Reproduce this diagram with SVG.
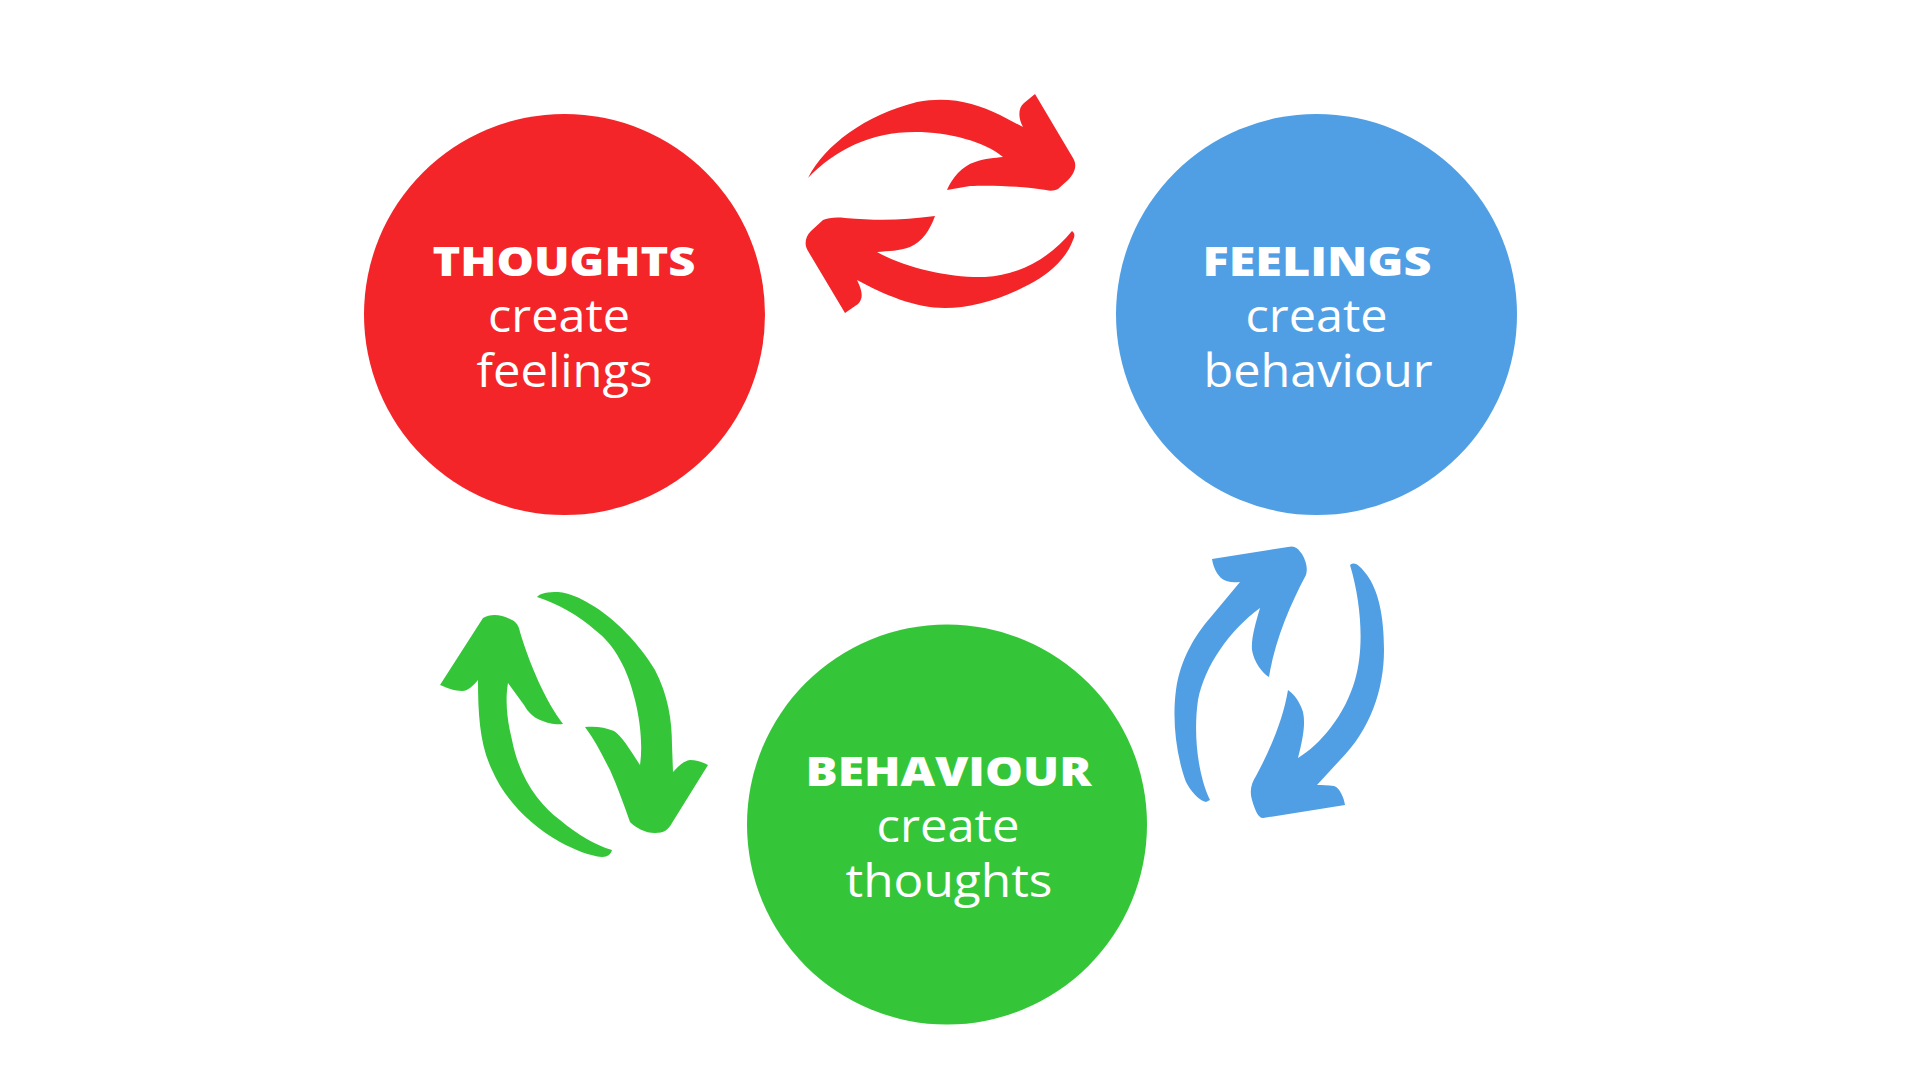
<svg xmlns="http://www.w3.org/2000/svg" width="1920" height="1080" viewBox="0 0 1920 1080">
<style>
.bg{fill:#ffffff}
.red{fill:#F32529}
.blue{fill:#509FE5}
.green{fill:#34C638}
.title{font-family:"Open Sans","Liberation Sans",sans-serif;font-weight:800;font-size:41px;fill:#ffffff;text-anchor:middle}
.sub{font-family:"Open Sans","Liberation Sans",sans-serif;font-weight:400;font-size:46px;fill:#ffffff;text-anchor:middle}
</style>
<rect class="bg" x="0" y="0" width="1920" height="1080"/>
<g id="thoughts">
<circle class="red" cx="564.5" cy="314.5" r="200.5"/>
<text class="title" x="564" y="276" textLength="263" lengthAdjust="spacingAndGlyphs">THOUGHTS</text>
<text class="sub" x="559" y="332" textLength="142" lengthAdjust="spacingAndGlyphs">create</text>
<text class="sub" x="564.5" y="387" textLength="176" lengthAdjust="spacingAndGlyphs">feelings</text>
</g>
<g id="feelings">
<circle class="blue" cx="1316.5" cy="314.5" r="200.5"/>
<text class="title" x="1317" y="276" textLength="229" lengthAdjust="spacingAndGlyphs">FEELINGS</text>
<text class="sub" x="1316.5" y="332" textLength="142" lengthAdjust="spacingAndGlyphs">create</text>
<text class="sub" x="1318" y="387" textLength="229" lengthAdjust="spacingAndGlyphs">behaviour</text>
</g>
<g id="behaviour">
<circle class="green" cx="947" cy="824.5" r="200"/>
<text class="title" x="948.5" y="786" textLength="286" lengthAdjust="spacingAndGlyphs">BEHAVIOUR</text>
<text class="sub" x="948" y="842" textLength="143" lengthAdjust="spacingAndGlyphs">create</text>
<text class="sub" x="949" y="897" textLength="207" lengthAdjust="spacingAndGlyphs">thoughts</text>
</g>
<g id="connectors">
<path class="red" d="M 808,178 C 825,145 865,115 917,102 C 950,96 975,103 1000,115 L 1023,127 C 1018,118 1018,108 1024,103 L 1035,94 L 1073,158 C 1078,166 1074,174 1068,180 L 1058,189 C 1054,191 1050,191 1046,190 C 1020,186 990,185 970,186 L 947,190 C 952,178 962,166 975,162 C 985,158 995,158 1003,157 C 985,142 950,132 915,132 C 870,132 835,150 808,178 Z"/>
<path class="red" d="M 823,220 C 828,218 835,217 845,218 C 880,221 905,220 935,216 C 930,230 922,242 910,247 C 900,251 888,251 877,252 C 905,268 950,278 985,277 C 1020,275 1050,258 1072,231 C 1075,233 1075,236 1073,240 C 1065,262 1045,276 1030,284 C 1000,300 970,308 945,308 C 915,308 885,295 857,280 C 862,290 864,298 858,304 L 845,313 L 808,251 C 804,245 805,237 811,231 Z"/>
<path class="blue" d="M 1212,559 L 1288,547 C 1294,545 1298,548 1302,554 C 1306,561 1308,568 1306,575 C 1290,605 1275,640 1269,677 C 1262,673 1254,662 1252,650 C 1251,638 1256,622 1260,608 C 1230,630 1205,665 1198,700 C 1193,735 1198,775 1210,800 L 1206,802 C 1198,800 1190,790 1186,782 C 1176,755 1172,720 1176,690 C 1180,660 1195,635 1210,618 L 1240,582 C 1232,583 1226,582 1221,578 C 1216,573 1213,566 1212,559 Z"/>
<path class="blue" d="M 1350,565 C 1355,561 1360,566 1367,575 C 1378,590 1384,615 1384,650 C 1384,690 1370,730 1340,760 L 1317,785 C 1322,785 1328,785 1334,786 C 1340,788 1344,798 1345,805 L 1263,818 C 1258,818 1255,810 1252,800 C 1249,790 1252,782 1256,776 C 1270,750 1283,720 1288,690 C 1294,694 1300,702 1303,712 C 1306,725 1302,742 1298,758 C 1320,745 1345,715 1355,680 C 1364,650 1362,605 1350,565 Z"/>
<path class="green" d="M 483,618 C 490,614 500,614 510,619 C 516,621 519,626 520,632 C 530,665 545,700 563,724 C 556,725 550,724 540,720 C 533,717 528,712 524,705 L 508,683 C 505,700 507,720 512,740 C 520,780 540,805 560,820 C 578,835 595,845 612,850 C 611,854 608,857 602,857 C 590,856 575,850 560,842 C 530,825 505,800 492,770 C 480,745 478,715 478,680 C 473,686 468,691 462,691 C 455,691 447,688 440,685 Z"/>
<path class="green" d="M 537,597 C 540,593 548,592 558,592 C 570,593 580,598 590,604 C 615,618 640,645 655,670 C 668,695 672,720 672,745 L 673,772 C 678,767 683,761 690,760 C 696,760 702,762 708,765 L 672,823 C 668,830 664,833 655,833 C 645,833 636,828 630,822 C 624,805 618,788 610,770 C 602,755 595,740 585,727 C 595,726 605,727 614,731 C 622,736 630,750 640,765 C 643,745 640,720 635,700 C 628,670 615,645 595,630 C 578,615 558,604 537,597 Z"/>
</g>
</svg>
